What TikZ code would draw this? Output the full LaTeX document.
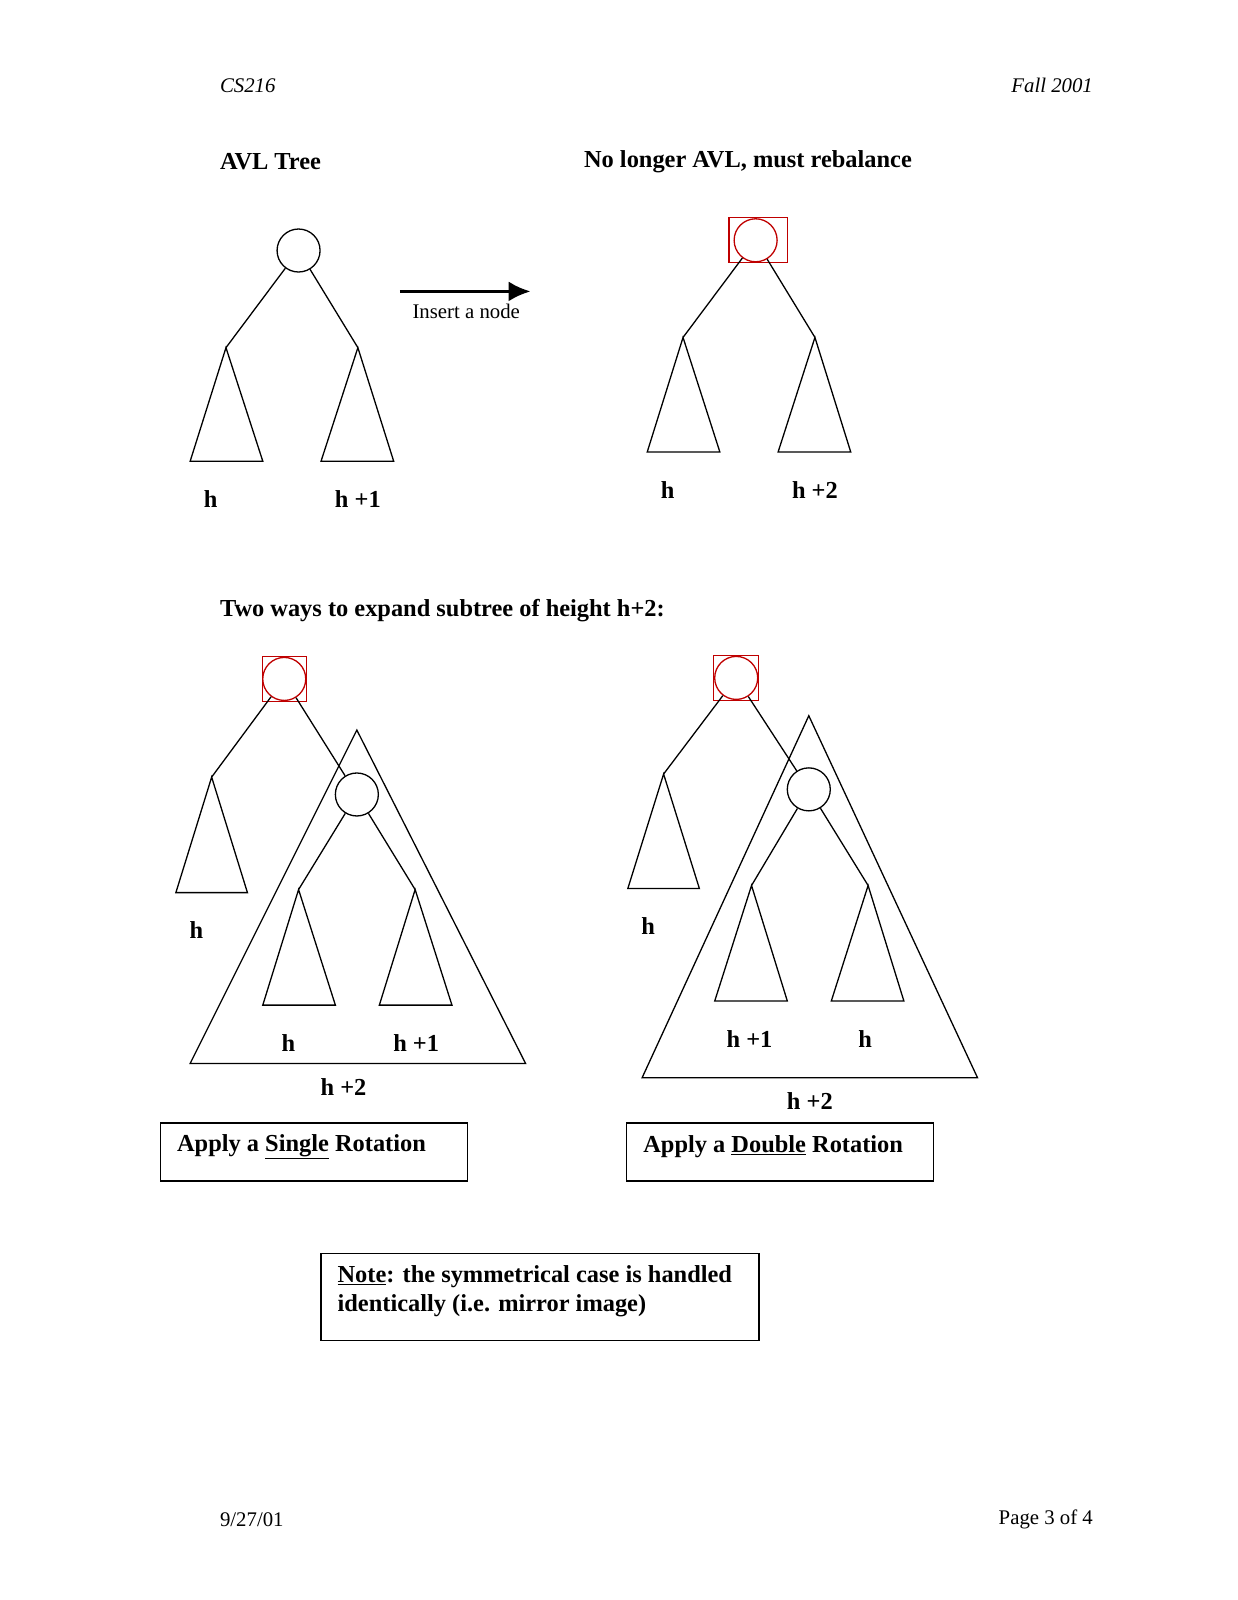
\documentclass[tikz,border=0pt]{standalone}
\usepackage{fontspec}
\usetikzlibrary{arrows.meta}
\setmainfont{Liberation Serif}
\begin{document}
\begin{tikzpicture}[x=1.0225pt,y=-1.0225pt,
  lbl/.style={font=\fontsize{24.4}{29}\selectfont\bfseries,inner sep=0pt},
  small/.style={font=\fontsize{20.8}{24}\selectfont,inner sep=0pt},
  circ/.style={draw,circle,minimum size=43pt,inner sep=0pt,line width=1.3pt},
  redc/.style={circ,draw=red!75!black},
  redsq/.style={draw=red!75!black,line width=1.3pt},
  ln/.style={line width=1.3pt},
  boxs/.style={draw,line width=1.3pt,inner sep=0pt}]
% header/footer
\node[small,font=\fontsize{20.8}{24}\selectfont\itshape,anchor=west] (hl) at (215,84) {CS216};
\node[small,font=\fontsize{20.8}{24}\selectfont\itshape,anchor=east] (hr) at (1069,84) {Fall 2001};
\node[small,anchor=west] (fl) at (215,1486) {9/27/01};
\node[small,anchor=east] (fr) at (1069,1486) {Page 3 of 4};
\node[lbl,anchor=west] (t1) at (215,158) {AVL Tree};
\node[lbl,anchor=west] (t2) at (571,158) {No longer AVL, must rebalance};
\node[lbl,anchor=west] (t3) at (215,597) {Two ways to expand subtree of height h+2:};
% tree 1
\node[circ] (c1) at (292,245) {};
\coordinate (a1) at (221,340); \coordinate (b1) at (350,340);
\draw[ln] (c1) -- (a1); \draw[ln] (c1) -- (b1);
\draw[ln] (a1) -- (186,451) -- (257,451) -- cycle;
\draw[ln] (b1) -- (314,451) -- (385,451) -- cycle;
\node[lbl] at (206,488) {h};
\node[lbl] at (350,488) {h +1};
% arrow
\coordinate (ar1) at (391,285); \coordinate (ar2) at (519,285);
\draw[line width=3.5pt,-{Latex[length=22pt,width=20pt]}] (ar1) -- (ar2);
\node[small] at (456,305) {Insert a node};
% tree 2
\node[redc] (c2) at (739,235) {};
\draw[redsq] (713,213) rectangle (770,257);
\coordinate (a2) at (668,330); \coordinate (b2) at (797,330);
\draw[ln] (c2) -- (a2); \draw[ln] (c2) -- (b2);
\draw[ln] (a2) -- (633,442) -- (704,442) -- cycle;
\draw[ln] (b2) -- (761,442) -- (832,442) -- cycle;
\node[lbl] at (653,479) {h};
\node[lbl] at (797,479) {h +2};
% tree 3
\node[redc] (c3) at (278,664) {};
\draw[redsq] (257,642) rectangle (300,686);
\coordinate (a3) at (207,760);
\node[circ] (d3) at (349,777) {};
\draw[ln] (c3) -- (a3); \draw[ln] (c3) -- (d3);
\draw[ln] (a3) -- (172,873) -- (242,873) -- cycle;
\draw[ln] (349,714) -- (186,1040) -- (514,1040) -- cycle;
\coordinate (e3) at (292,870); \coordinate (f3) at (406,870);
\draw[ln] (d3) -- (e3); \draw[ln] (d3) -- (f3);
\draw[ln] (e3) -- (257,983) -- (328,983) -- cycle;
\draw[ln] (f3) -- (371,983) -- (442,983) -- cycle;
\node[lbl] at (192,910) {h};
\node[lbl] at (282,1020) {h};
\node[lbl] at (407,1020) {h +1};
\node[lbl] at (336,1063) {h +2};
\node[boxs,minimum width=307pt,minimum height=58pt] (bx1) at (307,1126.5) {};
\node[lbl,anchor=west] at (173,1121) {Apply a \underline{Single} Rotation};
% tree 4
\node[redc] (c4) at (720,663) {};
\draw[redsq] (698,641) rectangle (742,685);
\coordinate (a4) at (649,757);
\node[circ] (d4) at (791,772) {};
\draw[ln] (c4) -- (a4); \draw[ln] (c4) -- (d4);
\draw[ln] (a4) -- (614,869) -- (684,869) -- cycle;
\draw[ln] (791,700) -- (628,1054) -- (956,1054) -- cycle;
\coordinate (e4) at (735,866); \coordinate (f4) at (849,866);
\draw[ln] (d4) -- (e4); \draw[ln] (d4) -- (f4);
\draw[ln] (e4) -- (699,979) -- (770,979) -- cycle;
\draw[ln] (f4) -- (813,979) -- (884,979) -- cycle;
\node[lbl] at (634,906) {h};
\node[lbl] at (733,1016) {h +1};
\node[lbl] at (846,1016) {h};
\node[lbl] at (792,1077) {h +2};
\node[boxs,minimum width=307pt,minimum height=58pt] (bx2) at (763,1126.5) {};
\node[lbl,anchor=west] at (629,1121) {Apply a \underline{Double} Rotation};
% note
\node[boxs,minimum width=438pt,minimum height=87pt] (bx3) at (528,1268.5) {};
\node[lbl,anchor=west] at (330,1249) {\underline{Note}: the symmetrical case is handled};
\node[lbl,anchor=west] at (330,1277) {identically (i.e. mirror image)};
\pgfresetboundingbox
\useasboundingbox (0,0) rectangle (1209.8,1564.8);
\end{tikzpicture}
\end{document}
